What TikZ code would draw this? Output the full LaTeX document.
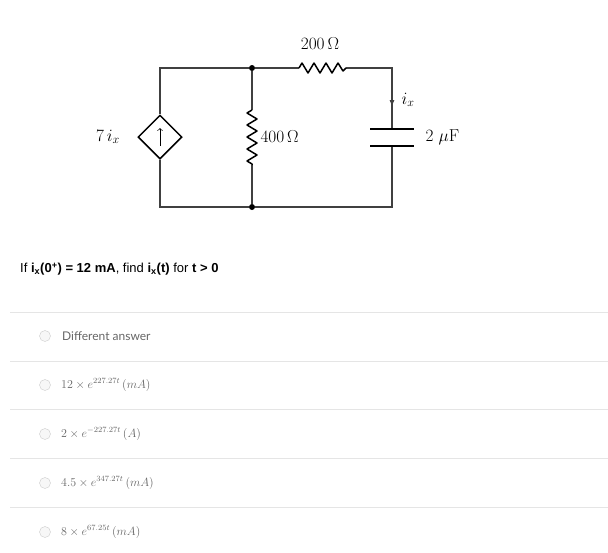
\documentclass[tikz,border=0pt]{standalone}
\usepackage{fontspec}
\usetikzlibrary{shapes.geometric,arrows.meta}
\newfontfamily\arial{Liberation Sans}
\newfontfamily\lato{Lato}
\begin{document}
\begin{tikzpicture}[x=1pt,y=-1pt,
  wire/.style={line width=1.1pt,black!75},
  dotn/.style={circle,fill=black,inner sep=0pt,minimum size=6pt},
  sep/.style={draw=black!10,line width=0.6pt},
  radio/.style={circle,draw=black!20,fill=black!3,minimum size=11pt,inner sep=0pt},
  opt/.style={anchor=west,text=black!60,inner sep=0pt,font=\large},
  lbl/.style={font=\LARGE}]
\useasboundingbox (0,0) rectangle (608,552);
% nodes
\coordinate (tl) at (160,68); \coordinate (bl) at (160,207);
\node[dotn] (tm) at (252,68) {}; \node[dotn] (bm) at (252,207) {};
\coordinate (tr) at (392,68); \coordinate (br) at (392,207);
\node[draw,diamond,line width=1.5pt,minimum size=44pt,inner sep=0pt] (src) at (160,137) {};
\draw[->,line width=0.5pt] (160,146) -- (160,128);
\coordinate (r4a) at (252,110); \coordinate (r4b) at (252,165);
\coordinate (r2a) at (299,68); \coordinate (r2b) at (346,68);
\coordinate (ca) at (392,129); \coordinate (cb) at (392,146);
% wires
\draw[wire] (src.north) -- (tl) -- (tm) -- (r2a);
\draw[wire] (r2b) -- (tr) -- (ca);
\draw[wire] (cb) -- (br) -- (bm) -- (bl) -- (src.south);
\draw[wire] (tm) -- (r4a); \draw[wire] (r4b) -- (bm);
% resistors
\draw[line width=1.5pt,line join=round] (r4a) -- ++(-5,3) -- ++(10,6) -- ++(-10,6) -- ++(10,6) -- ++(-10,6) -- ++(10,6) -- ++(-10,6)-- ++(10,6)-- ++(-10,6)-- ++(5,3) -- (r4b);
\draw[line width=1.5pt,line join=round] (r2a) -- ++(3,-5) -- ++(6,10) -- ++(6,-10) -- ++(6,10) -- ++(6,-10) -- ++(6,10) -- ++(6,-10) -- ++(5,8) -- (r2b);
% capacitor
\draw[line width=2.2pt] (370,129) -- (414,129) (370,146) -- (414,146);
\draw[-{Latex[length=7pt,width=5pt]},wire] (392,88) -- (392,107);
% labels
\node[lbl] at (320,44) {$200\,\Omega$};
\node[lbl,anchor=west] at (257,137) {$400\,\Omega$};
\node[lbl] at (108,137) {$7\,i_x$};
\node[lbl] at (408,100) {$i_x$};
\node[lbl,anchor=west] at (422,137) {2 $\mu$F};
\node[anchor=west,inner sep=0pt,font=\arial\fontsize{13}{14}\selectfont] (q) at (20,269) {If \textbf{i\textsubscript{x}(0\textsuperscript{+}) = 12 mA}, find \textbf{i\textsubscript{x}(t)} for \textbf{t > 0}};
% separators
\foreach \y in {312,361,409,458,507} \draw[sep] (10,\y) -- (608,\y);
\foreach \y [count=\i] in {336,385,434,483,532} \node[radio] (r\i) at (45,\y) {};
\node[opt,font=\lato\fontsize{12}{14}\selectfont] at (62,336) {Different answer};
\node[opt] at (61,385) {$12\times e^{227.27t}\,(mA)$};
\node[opt] at (61,434) {$2\times e^{-227.27t}\,(A)$};
\node[opt] at (61,483) {$4.5\times e^{347.27t}\,(mA)$};
\node[opt] at (61,532) {$8\times e^{67.25t}\,(mA)$};
\end{tikzpicture}
\end{document}
